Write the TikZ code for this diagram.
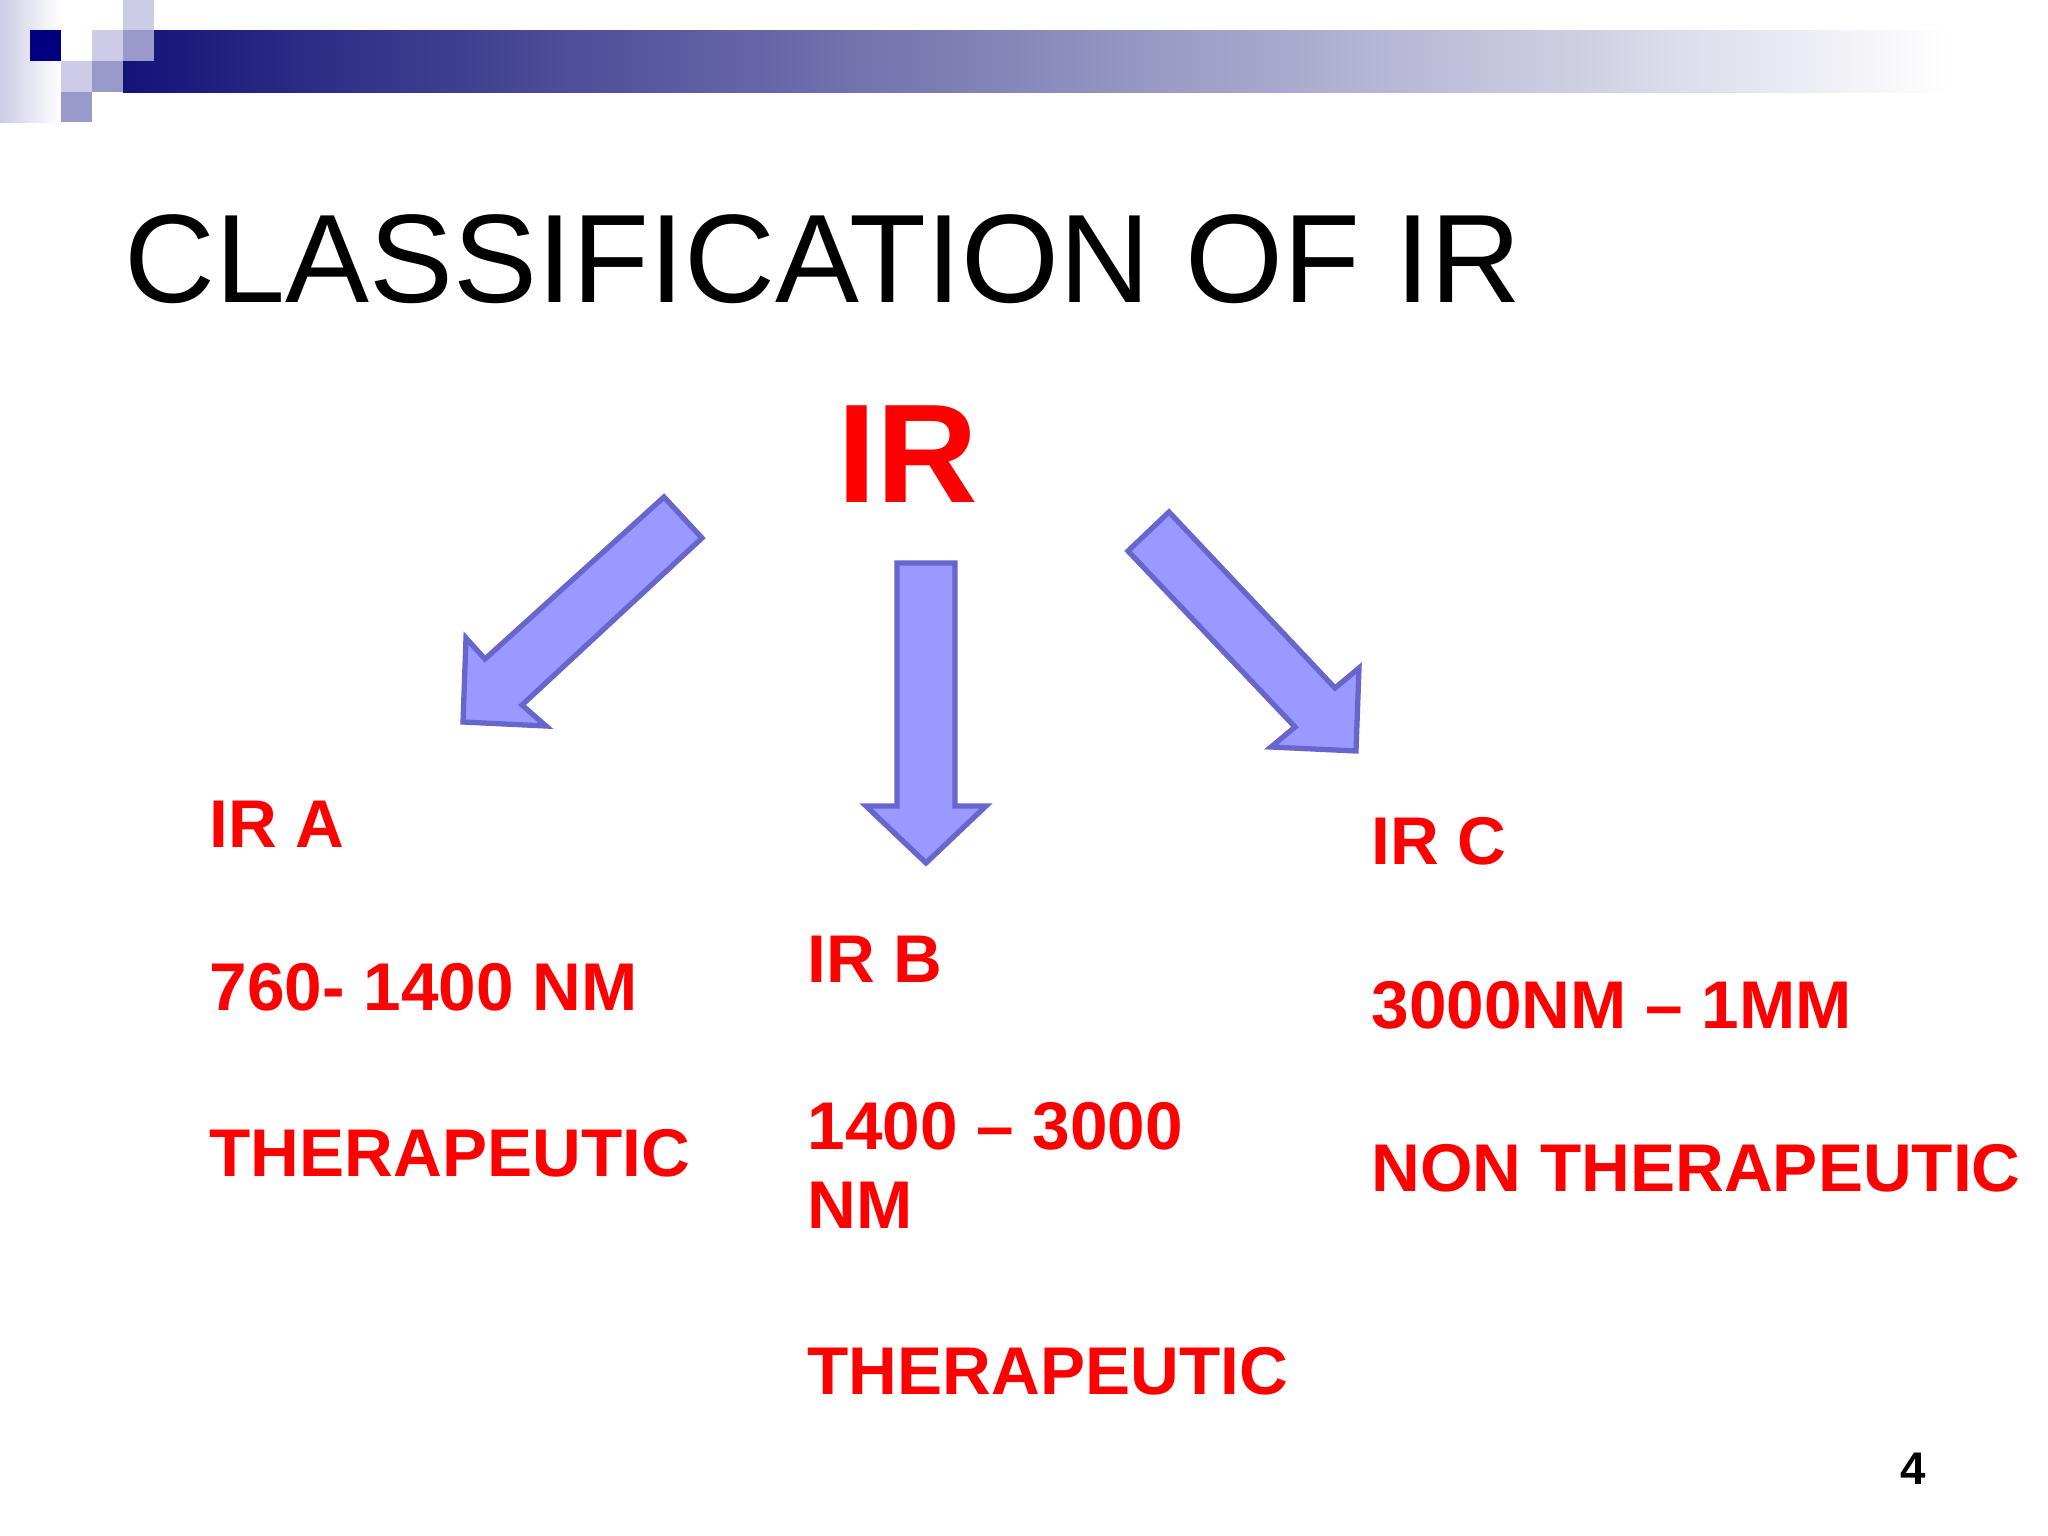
\documentclass[tikz,border=0pt]{standalone}
\usepackage{fontspec}
\setmainfont{Liberation Sans}
\definecolor{navybar}{RGB}{20, 20, 120}
\definecolor{lavlight}{RGB}{204, 204, 230}
\definecolor{lavmid}{RGB}{153, 153, 204}
\definecolor{navysq}{RGB}{0, 0, 128}
\definecolor{arrowfill}{RGB}{153, 153, 255}
\definecolor{arrowedge}{RGB}{102, 102, 204}
\definecolor{labelred}{RGB}{255, 0, 0}

\begin{document}
\begin{tikzpicture}[
    x=0.01cm, y=-0.01cm,
    redtext/.style={anchor=base west, inner sep=0pt, font=\fontsize{19.2}{23}\selectfont\bfseries, color=labelred},
    bigarrow/.style={fill=arrowfill, draw=arrowedge, line width=1.5pt, line join=miter},
]
\useasboundingbox (0,0) rectangle (2048,1536);

% header decoration
\shade[left color=lavlight, right color=white] (0,0) rectangle (61,122);
\shade[left color=navybar, right color=white] (123,30) rectangle (1950,92);
\fill[navysq] (30,30) rectangle (61,61);
\fill[lavlight] (92,30) rectangle (123,61);
\fill[lavlight] (123,0) rectangle (154,30);
\fill[lavmid] (123,30) rectangle (154,61);
\fill[lavlight] (61,61) rectangle (92,92);
\fill[lavmid] (92,61) rectangle (123,92);
\fill[lavmid] (61,92) rectangle (92,122);

% title
\node[anchor=base west, inner sep=0pt, font=\fontsize{35.8}{40}\selectfont] (title) at (124,302) {CLASSIFICATION OF IR};
\node[anchor=base, inner sep=0pt, font=\fontsize{40}{44}\selectfont\bfseries, color=labelred] (ir) at (908,502) {IR};

% arrows
\draw[bigarrow] (664,497) -- (702,538) -- (522,705) -- (546,726) -- (463,722) -- (466,638) -- (485,659) -- cycle;
\draw[bigarrow] (897,563) -- (955,563) -- (955,806) -- (986,806) -- (926,863) -- (866,806) -- (897,806) -- cycle;
\draw[bigarrow] (1128,551) -- (1169,512) -- (1335,688) -- (1359,668) -- (1356,751) -- (1271,747) -- (1295,727) -- cycle;

% IR A
\node[redtext] (ira) at (209,847) {IR A};
\node[redtext] (irarange) at (209,1010) {760- 1400 NM};
\node[redtext] (irause) at (209,1176) {THERAPEUTIC};

% IR B
\node[redtext] (irb) at (807,982) {IR B};
\node[redtext] (irbrange) at (807,1149) {1400 – 3000};
\node[redtext] (irbunit) at (807,1228) {NM};
\node[redtext] (irbuse) at (807,1394) {THERAPEUTIC};

% IR C
\node[redtext] (irc) at (1371,864) {IR C};
\node[redtext] (ircrange) at (1371,1028) {3000NM – 1MM};
\node[redtext] (ircuse) at (1371,1191) {NON THERAPEUTIC};

% page number
\node[anchor=base, inner sep=0pt, font=\fontsize{13}{15}\selectfont\bfseries] (pagenum) at (1913,1484) {4};
\end{tikzpicture}
\end{document}
